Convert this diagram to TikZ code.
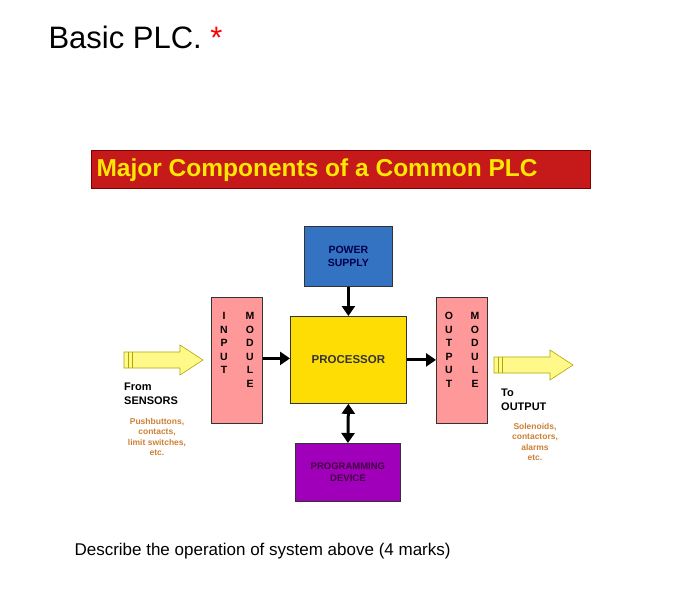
\documentclass[tikz,border=0pt]{standalone}
\usepackage{fontspec}
\setmainfont{Liberation Sans}
\usetikzlibrary{arrows.meta}
\begin{document}
\begin{tikzpicture}[x=1pt,y=-1pt,
 box/.style={draw=black!80,line width=0.8pt,anchor=north west,inner sep=0pt},
 lbl/.style={font=\bfseries\fontsize{10.5}{12.5}\selectfont,align=center},
 mod/.style={font=\bfseries\fontsize{10.5}{13.5}\selectfont,align=center},
 conn/.style={-{Triangle[length=10pt,width=13pt]},line width=3pt},
 big/.style={fill=yellow!40!white!90!yellow,draw=olive!70!yellow,line width=0.6pt},
 note/.style={font=\bfseries\fontsize{8.5}{10.5}\selectfont,text=brown!80!orange,align=center}]
\useasboundingbox (0,0) rectangle (700,603);
\node[anchor=west,font=\fontsize{31}{35}\selectfont] (t) at (45,37) {Basic PLC. \textcolor{red}{*}};
\node[box,draw=red!50!black,line width=0.5pt,fill=red!75!black!90,minimum width=499pt,minimum height=38pt] (ban) at (91,150) {};
\node[anchor=west,font=\bfseries\fontsize{24.5}{27}\selectfont,text=yellow!90!orange] (bt) at (93,170) {Major Components of a Common PLC};
\node[box,fill=blue!55!cyan!70!black!80,minimum width=88pt,minimum height=60pt] (ps) at (304,226) {};
\node[lbl,text=blue!30!black] at (ps.center) {POWER\\SUPPLY};
\node[box,fill=red!40!white,minimum width=51pt,minimum height=126pt] (in) at (211,297) {};
\node[mod] at (224,343) {I\\N\\P\\U\\T};
\node[mod] at (250,350) {M\\O\\D\\U\\L\\E};
\node[box,fill=yellow!80!orange,minimum width=116pt,minimum height=87pt] (pr) at (290,316) {};
\node[lbl,font=\bfseries\fontsize{11.5}{13}\selectfont,text=black!80] at (pr.center) {PROCESSOR};
\node[box,fill=red!40!white,minimum width=51pt,minimum height=126pt] (out) at (436,297) {};
\node[mod] at (449,350) {O\\U\\T\\P\\U\\T};
\node[mod] at (475,350) {M\\O\\D\\U\\L\\E};
\node[box,fill=violet!60!magenta!90!blue,minimum width=105pt,minimum height=58pt] (pd) at (295,443) {};
\node[lbl,font=\bfseries\fontsize{9.5}{12.5}\selectfont,text=violet!50!black] at (pd.center) {PROGRAMMING\\DEVICE};
\draw[conn] (ps.south) -- (pr.north);
\draw[conn] (in.east) ++(0,-2) coordinate (a1) -- (a1 -| pr.west);
\draw[conn] (pr.east) -- (pr.east -| out.west);
\draw[{Triangle[length=10pt,width=13pt]}-{Triangle[length=10pt,width=13pt]},line width=3pt] (pr.south) -- (pd.north);
\foreach \x/\y in {124/360,494/365}{
 \draw[big] (\x,\y-8) -- (\x+56,\y-8) -- (\x+56,\y-15) -- (\x+79,\y) -- (\x+56,\y+15) -- (\x+56,\y+8) -- (\x,\y+8) -- cycle;
 \draw[olive!70!yellow,line width=1pt] (\x+4,\y-8) -- (\x+4,\y+8) (\x+8,\y-8) -- (\x+8,\y+8);
}
\node[anchor=north west,inner sep=0pt,font=\bfseries\fontsize{11}{13.5}\selectfont,align=left] (fs) at (124,383) {From\\SENSORS};
\node[note] (ns) at (157,437) {Pushbuttons,\\contacts,\\limit switches,\\etc.};
\node[anchor=north west,inner sep=0pt,font=\bfseries\fontsize{11}{13.5}\selectfont,align=left] (to) at (501,389) {To\\OUTPUT};
\node[note] (no) at (535,442) {Solenoids,\\contactors,\\alarms\\etc.};
\node[anchor=west,font=\fontsize{17}{20}\selectfont] (q) at (71,551) {Describe the operation of system above (4 marks)};
\end{tikzpicture}
\end{document}
